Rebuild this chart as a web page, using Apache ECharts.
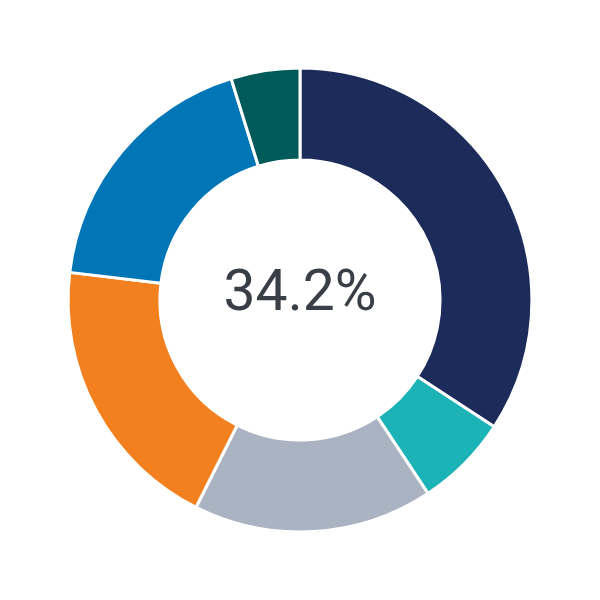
<!DOCTYPE html>
<html lang="en">
<head>
  <meta charset="utf-8">
  <title>Donut</title>
  <script src="https://cdn.jsdelivr.net/npm/echarts@6/dist/echarts.min.js"></script>
  <style>
    html, body { margin: 0; padding: 0; background: #fff; }
    #chart { width: 600px; height: 600px; }
  </style>
</head>
<body>
<div id="chart"></div>
<script>
// slice values (percent), clockwise from 12 o'clock
var names = ['A', 'B', 'C', 'D', 'E', 'F'];
var values = [34.2, 6.5, 16.7, 19.5, 18.3, 4.8];
var colors = ['#1c2b5a', '#1bb3b5', '#a9b3c1', '#f2801f', '#0076b6', '#005a5a'];
var centerLabel = '34.2%';

var chart = echarts.init(document.getElementById('chart'));
var option = {
  animation: false,
  title: {
    text: centerLabel,
    left: 'center',
    top: 262,
    textStyle: {
      fontFamily: 'Roboto',
      fontSize: 57,
      fontWeight: 'normal',
      color: '#3a3f47'
    }
  },
  series: [
    {
      type: 'pie',
      center: ['50%', '50%'],
      radius: ['46.7%', '77.3%'],
      startAngle: 90,
      clockwise: true,
      label: { show: false },
      labelLine: { show: false },
      itemStyle: {
        borderColor: '#ffffff',
        borderWidth: 3
      },
      data: names.map(function (n, i) {
        return { name: n, value: values[i], itemStyle: { color: colors[i] } };
      })
    }
  ]
};
chart.setOption(option);
</script>
</body>
</html>
